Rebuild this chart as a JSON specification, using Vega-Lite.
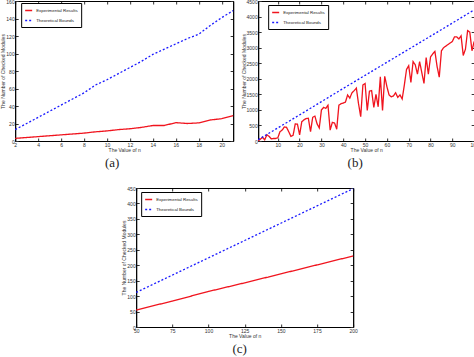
{
  "$schema": "https://vega.github.io/schema/vega-lite/v6.json",
  "padding": {"left": 0, "top": -2, "right": 0, "bottom": 0},
  "background": "white",
  "spacing": 14,
  "center": true,
  "resolve": {"legend": {"color": "independent", "strokeDash": "independent"}},
  "config": {
    "view": {"stroke": "black", "strokeWidth": 1},
    "axis": {"grid": false, "labelFont": "Liberation Sans", "labelFontSize": 5, "titleFont": "Liberation Sans", "titleFontSize": 5, "titleFontWeight": "normal", "labelColor": "#333", "titleColor": "#333", "domainColor": "black", "tickColor": "#333", "tickSize": -3, "labelPadding": 4, "titlePadding": 0, "labelFlush": false, "format": "d"},
    "title": {"font": "Liberation Serif", "fontSize": 13, "fontWeight": "normal", "orient": "bottom", "offset": 5, "color": "#222"},
    "legend": {"orient": "none", "strokeColor": "black", "fillColor": "white", "padding": 3, "labelFontSize": 4.4, "labelFont": "Liberation Sans", "labelColor": "#222", "symbolType": "stroke", "symbolSize": 49, "symbolStrokeWidth": 1.5, "labelOffset": 3, "rowPadding": 2, "labelLimit": 200, "title": null}
  },
  "vconcat": [
    {
      "spacing": 3,
      "resolve": {"legend": {"color": "independent", "strokeDash": "independent"}},
      "hconcat": [
        {
          "width": 218, "height": 140,
          "title": {"text": "(a)", "dx": -12},
          "data": {"values": [
            {"n": 2, "series": "Experimental Results", "v": 3},
            {"n": 3, "series": "Experimental Results", "v": 4},
            {"n": 4, "series": "Experimental Results", "v": 5},
            {"n": 5, "series": "Experimental Results", "v": 6},
            {"n": 6, "series": "Experimental Results", "v": 7},
            {"n": 7, "series": "Experimental Results", "v": 8},
            {"n": 8, "series": "Experimental Results", "v": 9},
            {"n": 9, "series": "Experimental Results", "v": 10.5},
            {"n": 10, "series": "Experimental Results", "v": 11.5},
            {"n": 11, "series": "Experimental Results", "v": 13},
            {"n": 12, "series": "Experimental Results", "v": 14},
            {"n": 13, "series": "Experimental Results", "v": 15.5},
            {"n": 14, "series": "Experimental Results", "v": 17.7},
            {"n": 15, "series": "Experimental Results", "v": 17.7},
            {"n": 16, "series": "Experimental Results", "v": 21},
            {"n": 17, "series": "Experimental Results", "v": 20},
            {"n": 18, "series": "Experimental Results", "v": 20.7},
            {"n": 19, "series": "Experimental Results", "v": 24},
            {"n": 20, "series": "Experimental Results", "v": 25.5},
            {"n": 21, "series": "Experimental Results", "v": 29},
            {"n": 2, "series": "Theoretical Bounds", "v": 13},
            {"n": 3, "series": "Theoretical Bounds", "v": 20},
            {"n": 4, "series": "Theoretical Bounds", "v": 27},
            {"n": 5, "series": "Theoretical Bounds", "v": 34},
            {"n": 6, "series": "Theoretical Bounds", "v": 41},
            {"n": 7, "series": "Theoretical Bounds", "v": 48},
            {"n": 8, "series": "Theoretical Bounds", "v": 55},
            {"n": 9, "series": "Theoretical Bounds", "v": 64},
            {"n": 10, "series": "Theoretical Bounds", "v": 70},
            {"n": 11, "series": "Theoretical Bounds", "v": 77},
            {"n": 12, "series": "Theoretical Bounds", "v": 84},
            {"n": 13, "series": "Theoretical Bounds", "v": 91},
            {"n": 14, "series": "Theoretical Bounds", "v": 99},
            {"n": 15, "series": "Theoretical Bounds", "v": 105},
            {"n": 16, "series": "Theoretical Bounds", "v": 111},
            {"n": 17, "series": "Theoretical Bounds", "v": 117},
            {"n": 18, "series": "Theoretical Bounds", "v": 122},
            {"n": 19, "series": "Theoretical Bounds", "v": 132},
            {"n": 20, "series": "Theoretical Bounds", "v": 141},
            {"n": 21, "series": "Theoretical Bounds", "v": 149}
          ]},
          "layer": [
            {
              "mark": {"type": "line", "strokeWidth": 1.3},
              "encoding": {
                "x": {"field": "n", "type": "quantitative", "scale": {"domain": [2, 21], "nice": false}, "axis": {"values": [2, 4, 6, 8, 10, 12, 14, 16, 18, 20], "title": "The Value of n"}},
                "y": {"field": "v", "type": "quantitative", "scale": {"domain": [0, 160], "nice": false}, "axis": {"values": [0, 20, 40, 60, 80, 100, 120, 140, 160], "title": "The Number of Checked Modules"}},
                "color": {"field": "series", "type": "nominal", "scale": {"domain": ["Experimental Results", "Theoretical Bounds"], "range": ["#f0141e", "#1a1aff"]}, "legend": {"title": null, "legendX": 6, "legendY": 2}},
                "strokeDash": {"field": "series", "type": "nominal", "scale": {"domain": ["Experimental Results", "Theoretical Bounds"], "range": [[1, 0], [2, 2]]}, "legend": {"title": null, "legendX": 6, "legendY": 2}}
              }
            },
            {
              "mark": {"type": "line", "opacity": 0},
              "encoding": {
                "x": {"field": "n", "type": "quantitative", "axis": {"orient": "top", "labels": false, "title": null, "values": [2, 4, 6, 8, 10, 12, 14, 16, 18, 20]}},
                "y": {"field": "v", "type": "quantitative", "axis": {"orient": "right", "labels": false, "title": null, "values": [0, 20, 40, 60, 80, 100, 120, 140, 160]}},
                "detail": {"field": "series"}
              }
            }
          ],
          "resolve": {"axis": {"x": "independent", "y": "independent"}}
        },
        {
          "width": 216, "height": 140,
          "title": {"text": "(b)", "dx": -11},
          "data": {"values": [
            {"n": 1, "series": "Experimental Results", "v": 0},
            {"n": 2, "series": "Experimental Results", "v": 60},
            {"n": 3, "series": "Experimental Results", "v": 120},
            {"n": 4, "series": "Experimental Results", "v": 40},
            {"n": 5, "series": "Experimental Results", "v": 200},
            {"n": 6, "series": "Experimental Results", "v": 150},
            {"n": 7, "series": "Experimental Results", "v": 70},
            {"n": 8, "series": "Experimental Results", "v": 80},
            {"n": 9, "series": "Experimental Results", "v": 80},
            {"n": 10, "series": "Experimental Results", "v": 100},
            {"n": 11, "series": "Experimental Results", "v": 300},
            {"n": 12, "series": "Experimental Results", "v": 350},
            {"n": 13, "series": "Experimental Results", "v": 450},
            {"n": 14, "series": "Experimental Results", "v": 440},
            {"n": 15, "series": "Experimental Results", "v": 300},
            {"n": 16, "series": "Experimental Results", "v": 150},
            {"n": 17, "series": "Experimental Results", "v": 180},
            {"n": 18, "series": "Experimental Results", "v": 550},
            {"n": 19, "series": "Experimental Results", "v": 540},
            {"n": 20, "series": "Experimental Results", "v": 200},
            {"n": 21, "series": "Experimental Results", "v": 620},
            {"n": 22, "series": "Experimental Results", "v": 680},
            {"n": 23, "series": "Experimental Results", "v": 720},
            {"n": 24, "series": "Experimental Results", "v": 730},
            {"n": 25, "series": "Experimental Results", "v": 300},
            {"n": 26, "series": "Experimental Results", "v": 760},
            {"n": 27, "series": "Experimental Results", "v": 800},
            {"n": 28, "series": "Experimental Results", "v": 550},
            {"n": 29, "series": "Experimental Results", "v": 420},
            {"n": 30, "series": "Experimental Results", "v": 1000},
            {"n": 31, "series": "Experimental Results", "v": 1080},
            {"n": 32, "series": "Experimental Results", "v": 1050},
            {"n": 33, "series": "Experimental Results", "v": 1150},
            {"n": 34, "series": "Experimental Results", "v": 350},
            {"n": 35, "series": "Experimental Results", "v": 600},
            {"n": 36, "series": "Experimental Results", "v": 580},
            {"n": 37, "series": "Experimental Results", "v": 380},
            {"n": 38, "series": "Experimental Results", "v": 1150},
            {"n": 39, "series": "Experimental Results", "v": 1200},
            {"n": 40, "series": "Experimental Results", "v": 1220},
            {"n": 41, "series": "Experimental Results", "v": 1250},
            {"n": 42, "series": "Experimental Results", "v": 1480},
            {"n": 43, "series": "Experimental Results", "v": 1380},
            {"n": 44, "series": "Experimental Results", "v": 1550},
            {"n": 45, "series": "Experimental Results", "v": 1620},
            {"n": 46, "series": "Experimental Results", "v": 1700},
            {"n": 47, "series": "Experimental Results", "v": 1200},
            {"n": 48, "series": "Experimental Results", "v": 780},
            {"n": 49, "series": "Experimental Results", "v": 1800},
            {"n": 50, "series": "Experimental Results", "v": 1850},
            {"n": 51, "series": "Experimental Results", "v": 980},
            {"n": 52, "series": "Experimental Results", "v": 1600},
            {"n": 53, "series": "Experimental Results", "v": 1620},
            {"n": 54, "series": "Experimental Results", "v": 1080},
            {"n": 55, "series": "Experimental Results", "v": 1500},
            {"n": 56, "series": "Experimental Results", "v": 1100},
            {"n": 57, "series": "Experimental Results", "v": 2060},
            {"n": 58, "series": "Experimental Results", "v": 980},
            {"n": 59, "series": "Experimental Results", "v": 2080},
            {"n": 60, "series": "Experimental Results", "v": 1750},
            {"n": 61, "series": "Experimental Results", "v": 1480},
            {"n": 62, "series": "Experimental Results", "v": 1420},
            {"n": 63, "series": "Experimental Results", "v": 1450},
            {"n": 64, "series": "Experimental Results", "v": 1550},
            {"n": 65, "series": "Experimental Results", "v": 1400},
            {"n": 66, "series": "Experimental Results", "v": 1480},
            {"n": 67, "series": "Experimental Results", "v": 1350},
            {"n": 68, "series": "Experimental Results", "v": 1800},
            {"n": 69, "series": "Experimental Results", "v": 2300},
            {"n": 70, "series": "Experimental Results", "v": 2420},
            {"n": 71, "series": "Experimental Results", "v": 1880},
            {"n": 72, "series": "Experimental Results", "v": 2550},
            {"n": 73, "series": "Experimental Results", "v": 2450},
            {"n": 74, "series": "Experimental Results", "v": 2150},
            {"n": 75, "series": "Experimental Results", "v": 2550},
            {"n": 76, "series": "Experimental Results", "v": 2200},
            {"n": 77, "series": "Experimental Results", "v": 1850},
            {"n": 78, "series": "Experimental Results", "v": 2680},
            {"n": 79, "series": "Experimental Results", "v": 2150},
            {"n": 80, "series": "Experimental Results", "v": 2700},
            {"n": 81, "series": "Experimental Results", "v": 2800},
            {"n": 82, "series": "Experimental Results", "v": 2880},
            {"n": 83, "series": "Experimental Results", "v": 2400},
            {"n": 84, "series": "Experimental Results", "v": 2050},
            {"n": 85, "series": "Experimental Results", "v": 2900},
            {"n": 86, "series": "Experimental Results", "v": 3000},
            {"n": 87, "series": "Experimental Results", "v": 3050},
            {"n": 88, "series": "Experimental Results", "v": 3100},
            {"n": 89, "series": "Experimental Results", "v": 3150},
            {"n": 90, "series": "Experimental Results", "v": 3200},
            {"n": 91, "series": "Experimental Results", "v": 3350},
            {"n": 92, "series": "Experimental Results", "v": 3350},
            {"n": 93, "series": "Experimental Results", "v": 3280},
            {"n": 94, "series": "Experimental Results", "v": 3380},
            {"n": 95, "series": "Experimental Results", "v": 2750},
            {"n": 96, "series": "Experimental Results", "v": 2950},
            {"n": 97, "series": "Experimental Results", "v": 3550},
            {"n": 98, "series": "Experimental Results", "v": 3500},
            {"n": 99, "series": "Experimental Results", "v": 2900},
            {"n": 100, "series": "Experimental Results", "v": 3200},
            {"n": 1, "series": "Theoretical Bounds", "v": 42},
            {"n": 10, "series": "Theoretical Bounds", "v": 420},
            {"n": 20, "series": "Theoretical Bounds", "v": 840},
            {"n": 30, "series": "Theoretical Bounds", "v": 1265},
            {"n": 40, "series": "Theoretical Bounds", "v": 1690},
            {"n": 50, "series": "Theoretical Bounds", "v": 2110},
            {"n": 60, "series": "Theoretical Bounds", "v": 2530},
            {"n": 70, "series": "Theoretical Bounds", "v": 2950},
            {"n": 80, "series": "Theoretical Bounds", "v": 3370},
            {"n": 90, "series": "Theoretical Bounds", "v": 3790},
            {"n": 100, "series": "Theoretical Bounds", "v": 4215}
          ]},
          "layer": [
            {
              "mark": {"type": "line", "strokeWidth": 1.3},
              "encoding": {
                "x": {"field": "n", "type": "quantitative", "scale": {"domain": [1, 100], "nice": false}, "axis": {"values": [10, 20, 30, 40, 50, 60, 70, 80, 90, 100], "title": "The Value of n"}},
                "y": {"field": "v", "type": "quantitative", "scale": {"domain": [0, 4500], "nice": false}, "axis": {"values": [0, 500, 1000, 1500, 2000, 2500, 3000, 3500, 4000, 4500], "title": "The Number of Checked Modules"}},
                "color": {"field": "series", "type": "nominal", "scale": {"domain": ["Experimental Results", "Theoretical Bounds"], "range": ["#f0141e", "#1a1aff"]}, "legend": {"title": null, "legendX": 10, "legendY": 4}},
                "strokeDash": {"field": "series", "type": "nominal", "scale": {"domain": ["Experimental Results", "Theoretical Bounds"], "range": [[1, 0], [2, 2]]}, "legend": {"title": null, "legendX": 10, "legendY": 4}}
              }
            },
            {
              "mark": {"type": "line", "opacity": 0},
              "encoding": {
                "x": {"field": "n", "type": "quantitative", "axis": {"orient": "top", "labels": false, "title": null, "values": [10, 20, 30, 40, 50, 60, 70, 80, 90, 100]}},
                "y": {"field": "v", "type": "quantitative", "axis": {"orient": "right", "labels": false, "title": null, "values": [0, 500, 1000, 1500, 2000, 2500, 3000, 3500, 4000, 4500]}},
                "detail": {"field": "series"}
              }
            }
          ],
          "resolve": {"axis": {"x": "independent", "y": "independent"}}
        }
      ]
    },
    {
      "width": 217, "height": 139,
      "title": {"text": "(c)", "dx": -5},
      "data": {"values": [
        {"n": 50, "series": "Experimental Results", "v": 55},
        {"n": 75, "series": "Experimental Results", "v": 84},
        {"n": 100, "series": "Experimental Results", "v": 115},
        {"n": 125, "series": "Experimental Results", "v": 143},
        {"n": 150, "series": "Experimental Results", "v": 172},
        {"n": 175, "series": "Experimental Results", "v": 201},
        {"n": 200, "series": "Experimental Results", "v": 230},
        {"n": 50, "series": "Theoretical Bounds", "v": 112},
        {"n": 75, "series": "Theoretical Bounds", "v": 168},
        {"n": 100, "series": "Theoretical Bounds", "v": 224},
        {"n": 125, "series": "Theoretical Bounds", "v": 280},
        {"n": 150, "series": "Theoretical Bounds", "v": 336},
        {"n": 175, "series": "Theoretical Bounds", "v": 392},
        {"n": 200, "series": "Theoretical Bounds", "v": 448}
      ]},
      "layer": [
        {
          "mark": {"type": "line", "strokeWidth": 1.3},
          "encoding": {
            "x": {"field": "n", "type": "quantitative", "scale": {"domain": [50, 200], "nice": false}, "axis": {"values": [50, 75, 100, 125, 150, 175, 200], "title": "The Value of n"}},
            "y": {"field": "v", "type": "quantitative", "scale": {"domain": [0, 450], "nice": false}, "axis": {"values": [0, 50, 100, 150, 200, 250, 300, 350, 400, 450], "title": "The Number of Checked Modules"}},
            "color": {"field": "series", "type": "nominal", "scale": {"domain": ["Experimental Results", "Theoretical Bounds"], "range": ["#f0141e", "#1a1aff"]}, "legend": {"title": null, "legendX": 5, "legendY": 4}},
            "strokeDash": {"field": "series", "type": "nominal", "scale": {"domain": ["Experimental Results", "Theoretical Bounds"], "range": [[1, 0], [2, 2]]}, "legend": {"title": null, "legendX": 5, "legendY": 4}}
          }
        },
        {
          "mark": {"type": "line", "opacity": 0},
          "encoding": {
            "x": {"field": "n", "type": "quantitative", "axis": {"orient": "top", "labels": false, "title": null, "values": [50, 75, 100, 125, 150, 175, 200]}},
            "y": {"field": "v", "type": "quantitative", "axis": {"orient": "right", "labels": false, "title": null, "values": [0, 50, 100, 150, 200, 250, 300, 350, 400, 450]}},
            "detail": {"field": "series"}
          }
        }
      ],
      "resolve": {"axis": {"x": "independent", "y": "independent"}}
    }
  ]
}
